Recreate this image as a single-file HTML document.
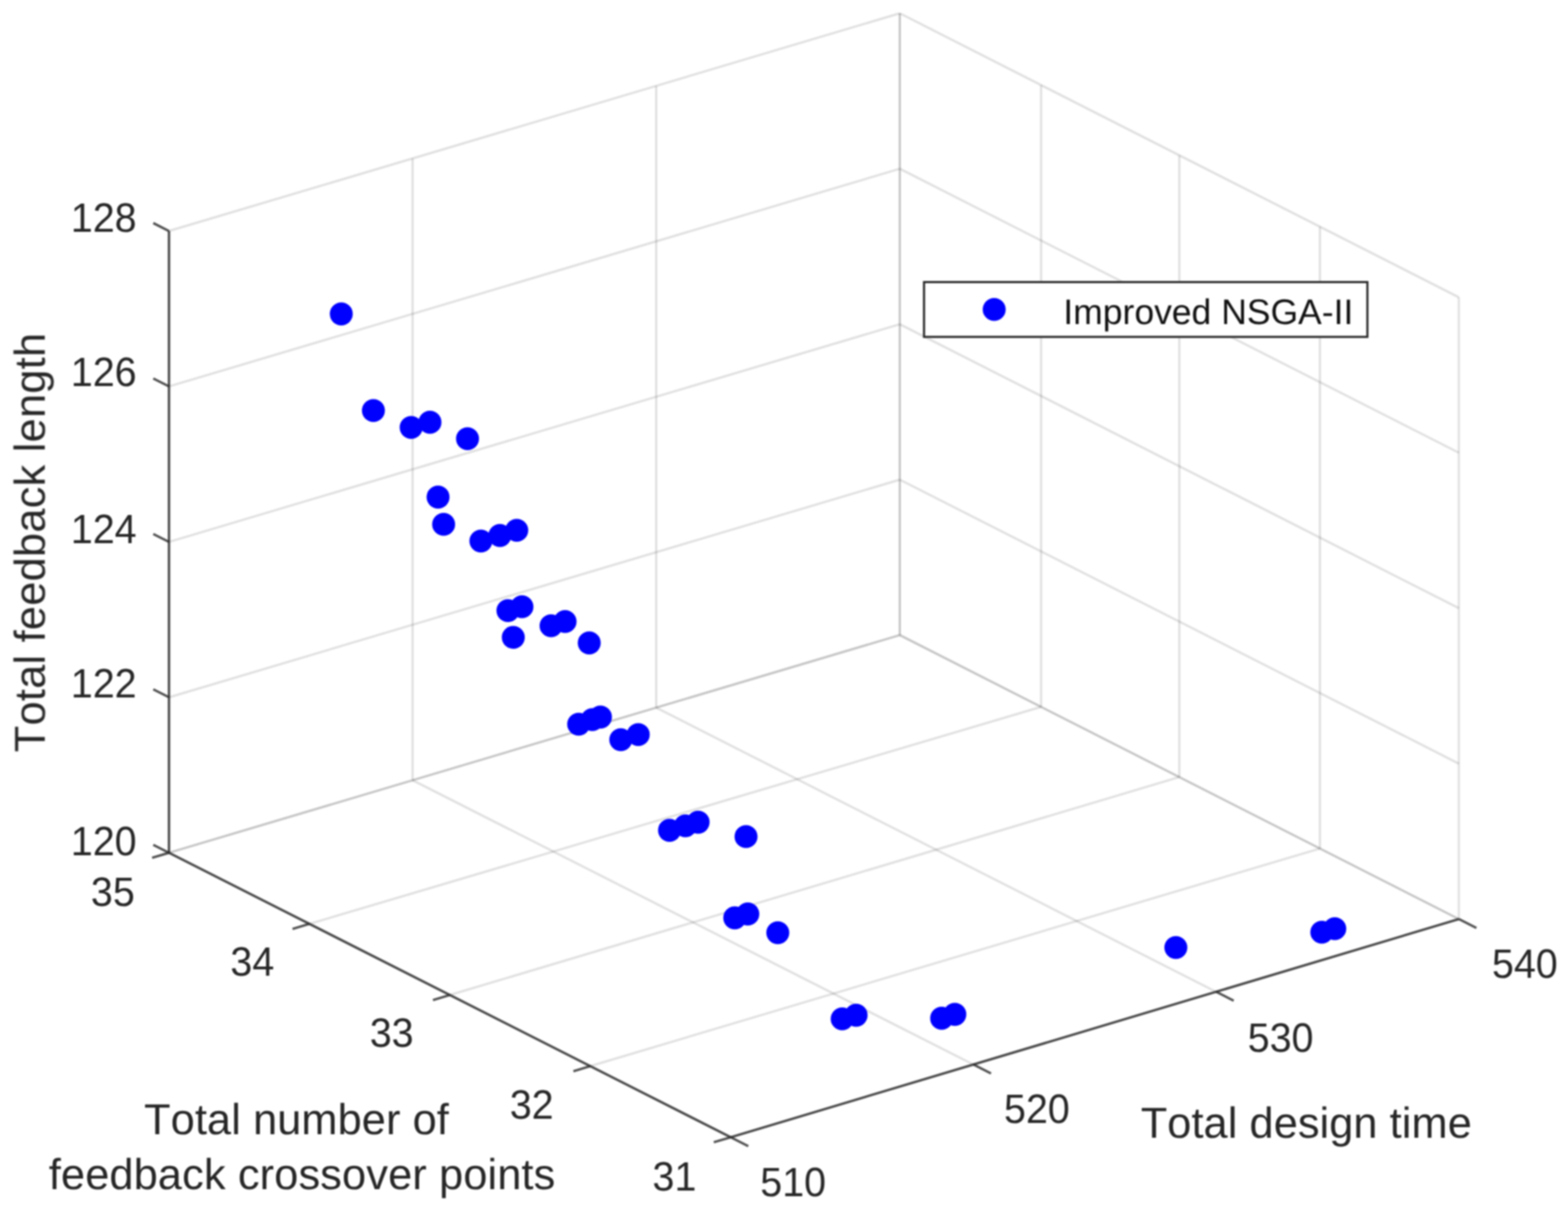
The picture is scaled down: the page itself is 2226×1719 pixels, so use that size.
<!DOCTYPE html>
<html lang="en">
<head>
<meta charset="utf-8">
<title>Improved NSGA-II Pareto front</title>
<style>
html,body{margin:0;padding:0;background:#fff;}
body{width:2226px;height:1719px;overflow:hidden;}
svg{display:block;font-family:"Liberation Sans",Arial,Helvetica,sans-serif;font-kerning:none;font-variant-ligatures:none;text-rendering:geometricPrecision;}
.g{stroke:#262626;stroke-opacity:.14;stroke-width:3.2;fill:none;}
.a{stroke:#262626;stroke-opacity:.8;stroke-width:3.4;fill:none;}
.t{font-size:56px;fill:#262626;}
.l{font-size:61.6px;fill:#262626;}
.lt{font-size:50.4px;fill:#111;}
.lb{fill:#fff;stroke:#262626;stroke-width:3;}
circle{fill:#0000ff;}
</style>
</head>
<body>
<svg width="2226" height="1719" viewBox="0 0 2226 1719">
<defs><filter id="soft" x="0" y="0" width="100%" height="100%" filterUnits="userSpaceOnUse" color-interpolation-filters="sRGB"><feGaussianBlur stdDeviation="0.8"/></filter></defs>
<rect x="0" y="0" width="2226" height="1719" fill="#ffffff"/>
<g id="plot" filter="url(#soft)">
<g id="grid">
<line class="g" x1="239.9" y1="1210.5" x2="1037.3" y2="1614.3"/>
<line class="g" x1="585.73" y1="1107.5" x2="1381.87" y2="1511.07"/>
<line class="g" x1="931.57" y1="1004.5" x2="1726.43" y2="1407.83"/>
<line class="g" x1="1277.4" y1="901.5" x2="2071" y2="1304.6"/>
<line class="g" x1="239.9" y1="1210.5" x2="1277.4" y2="901.5"/>
<line class="g" x1="439.25" y1="1311.45" x2="1478.02" y2="1003.4"/>
<line class="g" x1="638.6" y1="1412.4" x2="1674.2" y2="1103.05"/>
<line class="g" x1="837.95" y1="1513.35" x2="1873.79" y2="1204.43"/>
<line class="g" x1="1037.3" y1="1614.3" x2="2071" y2="1304.6"/>
<line class="g" x1="239.9" y1="1210.5" x2="239.9" y2="327.9"/>
<line class="g" x1="585.73" y1="1107.5" x2="585.73" y2="224.9"/>
<line class="g" x1="931.57" y1="1004.5" x2="931.57" y2="121.9"/>
<line class="g" x1="1277.4" y1="901.5" x2="1277.4" y2="18.9"/>
<line class="g" x1="239.9" y1="1210.5" x2="1277.4" y2="901.5"/>
<line class="g" x1="239.9" y1="989.85" x2="1277.4" y2="680.85"/>
<line class="g" x1="239.9" y1="769.2" x2="1277.4" y2="460.2"/>
<line class="g" x1="239.9" y1="548.55" x2="1277.4" y2="239.55"/>
<line class="g" x1="239.9" y1="327.9" x2="1277.4" y2="18.9"/>
<line class="g" x1="1277.4" y1="901.5" x2="1277.4" y2="18.9"/>
<line class="g" x1="1478.02" y1="1003.4" x2="1478.02" y2="120.8"/>
<line class="g" x1="1674.2" y1="1103.05" x2="1674.2" y2="220.45"/>
<line class="g" x1="1873.79" y1="1204.43" x2="1873.79" y2="321.83"/>
<line class="g" x1="2071" y1="1304.6" x2="2071" y2="422"/>
<line class="g" x1="1277.4" y1="901.5" x2="2071" y2="1304.6"/>
<line class="g" x1="1277.4" y1="680.85" x2="2071" y2="1083.95"/>
<line class="g" x1="1277.4" y1="460.2" x2="2071" y2="863.3"/>
<line class="g" x1="1277.4" y1="239.55" x2="2071" y2="642.65"/>
<line class="g" x1="1277.4" y1="18.9" x2="2071" y2="422"/>
</g>
<g id="axes">
<line class="a" x1="239.9" y1="1210.5" x2="239.9" y2="327.9"/>
<line class="a" x1="239.9" y1="1210.5" x2="1037.3" y2="1614.3"/>
<line class="a" x1="1037.3" y1="1614.3" x2="2071" y2="1304.6"/>
<line class="a" x1="239.9" y1="1210.5" x2="217.6" y2="1199.21"/>
<line class="a" x1="239.9" y1="989.85" x2="217.6" y2="978.56"/>
<line class="a" x1="239.9" y1="769.2" x2="217.6" y2="757.91"/>
<line class="a" x1="239.9" y1="548.55" x2="217.6" y2="537.26"/>
<line class="a" x1="239.9" y1="327.9" x2="217.6" y2="316.61"/>
<line class="a" x1="239.9" y1="1210.5" x2="215.95" y2="1217.67"/>
<line class="a" x1="439.25" y1="1311.45" x2="415.3" y2="1318.62"/>
<line class="a" x1="638.6" y1="1412.4" x2="614.65" y2="1419.57"/>
<line class="a" x1="837.95" y1="1513.35" x2="814" y2="1520.52"/>
<line class="a" x1="1037.3" y1="1614.3" x2="1013.35" y2="1621.47"/>
<line class="a" x1="1037.3" y1="1614.3" x2="1062.28" y2="1626.95"/>
<line class="a" x1="1381.87" y1="1511.07" x2="1406.85" y2="1523.72"/>
<line class="a" x1="1726.43" y1="1407.83" x2="1751.41" y2="1420.48"/>
<line class="a" x1="2071" y1="1304.6" x2="2095.98" y2="1317.25"/>
</g>
<g id="points">
<circle cx="484.5" cy="445.6" r="16.3"/>
<circle cx="530.1" cy="582.8" r="16.3"/>
<circle cx="583.7" cy="606.7" r="16.3"/>
<circle cx="610.4" cy="599.4" r="16.3"/>
<circle cx="663.7" cy="622.7" r="16.3"/>
<circle cx="621.9" cy="705.6" r="16.3"/>
<circle cx="629.8" cy="744.2" r="16.3"/>
<circle cx="682.7" cy="768" r="16.3"/>
<circle cx="709.7" cy="760.1" r="16.3"/>
<circle cx="733.6" cy="752.8" r="16.3"/>
<circle cx="721.1" cy="866.7" r="16.3"/>
<circle cx="741" cy="861.2" r="16.3"/>
<circle cx="728.7" cy="904.7" r="16.3"/>
<circle cx="782.3" cy="888.2" r="16.3"/>
<circle cx="802.2" cy="882.3" r="16.3"/>
<circle cx="836.5" cy="912.6" r="16.3"/>
<circle cx="821.5" cy="1028" r="16.3"/>
<circle cx="840.8" cy="1021.5" r="16.3"/>
<circle cx="852.4" cy="1017.9" r="16.3"/>
<circle cx="881.3" cy="1050" r="16.3"/>
<circle cx="906.1" cy="1042.7" r="16.3"/>
<circle cx="950.5" cy="1178.6" r="16.3"/>
<circle cx="973.1" cy="1172.2" r="16.3"/>
<circle cx="991.1" cy="1167.1" r="16.3"/>
<circle cx="1059.1" cy="1187.5" r="16.3"/>
<circle cx="1043.1" cy="1302.9" r="16.3"/>
<circle cx="1061.6" cy="1297.4" r="16.3"/>
<circle cx="1104.2" cy="1324" r="16.3"/>
<circle cx="1195.6" cy="1446.2" r="16.3"/>
<circle cx="1215.4" cy="1441.1" r="16.3"/>
<circle cx="1336.8" cy="1445.4" r="16.3"/>
<circle cx="1355.5" cy="1439.9" r="16.3"/>
<circle cx="1669.3" cy="1345" r="16.3"/>
<circle cx="1876.5" cy="1323.3" r="16.3"/>
<circle cx="1894.9" cy="1318.2" r="16.3"/>
</g>
<g id="labels">
<text class="t" text-anchor="end" transform="translate(194 1213.8) scale(1 1.04)">120</text>
<text class="t" text-anchor="end" transform="translate(194 990) scale(1 1.04)">122</text>
<text class="t" text-anchor="end" transform="translate(194 770.8) scale(1 1.04)">124</text>
<text class="t" text-anchor="end" transform="translate(194 548) scale(1 1.04)">126</text>
<text class="t" text-anchor="end" transform="translate(194 328.6) scale(1 1.04)">128</text>
<text class="t" text-anchor="end" transform="translate(191.3 1286) scale(1 1.04)">35</text>
<text class="t" text-anchor="end" transform="translate(389.4 1385) scale(1 1.04)">34</text>
<text class="t" text-anchor="end" transform="translate(587.2 1486.3) scale(1 1.04)">33</text>
<text class="t" text-anchor="end" transform="translate(786 1588.2) scale(1 1.04)">32</text>
<text class="t" text-anchor="end" transform="translate(988.6 1689.8) scale(1 1.04)">31</text>
<text class="t" text-anchor="start" transform="translate(1079.3 1698) scale(1 1.04)">510</text>
<text class="t" text-anchor="start" transform="translate(1425.3 1594.2) scale(1 1.04)">520</text>
<text class="t" text-anchor="start" transform="translate(1771.3 1493) scale(1 1.04)">530</text>
<text class="t" text-anchor="start" transform="translate(2118 1388.5) scale(1 1.04)">540</text>
<text class="l" x="1619.4" y="1614.6" textLength="470.02" lengthAdjust="spacing">Total design time</text>
<text class="l" x="204.6" y="1609.6" textLength="432.58" lengthAdjust="spacing">Total number of</text>
<text class="l" x="69.2" y="1688.0" textLength="719.15" lengthAdjust="spacing">feedback crossover points</text>
<text class="l" transform="translate(63.6 1067.8) rotate(-90)" x="0" y="0" textLength="595.26" lengthAdjust="spacing">Total feedback length</text>
</g>
<g id="legend">
<rect class="lb" x="1311.8" y="400.4" width="629.4" height="77.8"/>
<circle cx="1411.4" cy="439.3" r="16.3"/>
<text class="lt" x="1509.6" y="460">Improved NSGA-II</text>
</g>
</g>
</svg>
</body>
</html>
